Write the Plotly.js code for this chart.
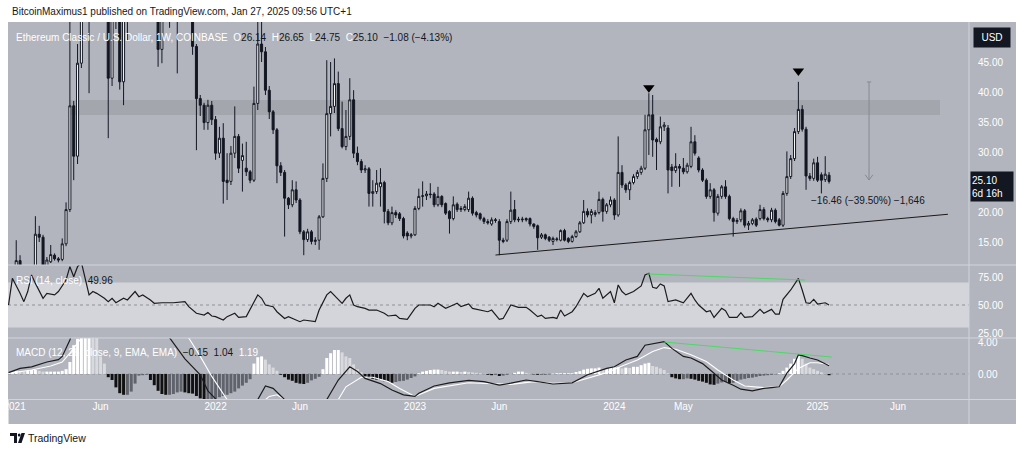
<!DOCTYPE html>
<html><head><meta charset="utf-8">
<script src="https://cdn.plot.ly/plotly-3.0.1.min.js"></script>
<style>html,body{margin:0;padding:0;background:#fff;}#chart{width:1024px;height:454px;}</style>
</head><body><div id="chart"></div>
<script>
// ---- weekly candles, first bar = week -2 (2020-12-21); week 0 = 2021-01-04 ----
const firstWeekNo = -2;
const openP = [
 5.5,5.7,9.5,11.9,10.5,9.8,10.3,10.5,16.3,15.8,
 10.9,11.7,12.8,12.2,12.1,14.7,20.4,37.7,29.3,44.8,
 75,80,60,68,62,56,54,42.3,53,55,
 41.7,55,58,62,70,64,66,70,57,55,
 47.1,55,58,56,54,55,57,55,54,47.6,
 38.9,37.8,34.9,37.8,35.4,29.8,32.3,25.3,25.1,29.8,
 32.6,28.6,27.3,26.7,25.3,38.1,48.0,46.7,40.3,36.7,
 33.7,27.7,26.6,22.3,21.2,23.7,22.0,16.7,15.4,16.7,
 15.1,15.3,19.2,25.6,36.4,37.6,41.4,33.9,30.9,32.6,
 38.7,29.8,28.4,27.0,27.2,23.1,23.4,24.2,24.9,20.1,
 18.2,19.9,19.7,18.9,16.5,16.0,16.2,20.6,22.6,22.7,
 23.0,23.0,21.2,22.6,21.4,20.1,18.9,21.3,20.4,20.4,
 20.4,22.3,19.9,19.7,18.9,18.4,18.0,18.7,18.4,15.3,
 15.3,18.4,20.4,18.8,18.7,18.9,18.9,18.0,17.7,15.8,
 16.2,15.8,15.1,15.4,15.3,16.9,15.6,15.1,15.9,16.7,
 18.2,20.1,19.5,19.6,19.9,22.1,20.1,21.2,22.0,19.5,
 26.6,24.5,23.7,24.9,25.9,26.6,27.3,33.7,36.2,32.1,
 31.7,34.2,34.0,27.5,26.9,27.6,27.3,26.7,27.6,31.7,
 29.0,27.0,25.3,22.6,23.7,19.8,22.6,24.2,22.6,18.9,
 18.4,18.7,20.2,17.8,18.1,18.8,18.9,20.4,18.9,18.7,
 20.3,18.7,17.8,23.1,25.9,28.9,33.4,37.1,33.8,26.0,
 25.6,28.2,26.2,25.4,26.14];
const highP = [
 6.0,10.0,15.3,12.8,11.0,10.9,11.0,19.3,17.7,16.2,
 12.5,14.5,13.1,12.5,15.6,21.6,55,38.5,48,176,
 110,95,75,78,66,62,56,56,57,56,
 60,62,66,75,72,72,80,75,62,56,
 60,62,62,58,58,60,62,56,56,48,
 39.5,38.2,38.7,38.5,36,34.2,34.8,29.8,31,37.6,
 33,31.4,31.7,27,40.9,52.5,55,47.5,41,37,
 34,28.3,27,22.5,25.3,25.1,22.3,17,17.2,17,
 15.8,19.5,28.1,45.3,45.0,45.6,43.4,38.4,37,42.3,
 40.3,30.9,28.8,27.8,27.5,25.3,27,27.3,25.2,20.5,
 20.9,20.3,20,19.2,16.8,16.5,21,23.9,25.1,23.5,
 24.8,23.3,24.2,22.8,21.6,20.3,22.6,21.6,21,21.3,
 23.4,22.6,20.2,19.9,19.2,18.8,19.1,19.0,18.8,15.7,
 18.8,23.4,22.0,19.2,19.2,19.1,19.1,18.1,17.9,16.5,
 16.4,16,15.9,15.8,17.1,17.2,15.8,16.2,17,18.5,
 22.0,20.6,20.5,20.3,23.4,22.4,21.5,22.6,22.3,32.6,
 27.8,24.8,25.2,26.3,27,27.7,36.2,39.8,39.5,32.4,
 35.9,35,34.5,28,29.8,28,29.0,28.2,34.2,32.8,
 29.3,27.3,25.6,24.8,24,23,24.5,25.3,22.9,19.2,
 19,20.6,20.5,18.5,19,19.1,21.2,20.8,19.2,20.7,
 20.6,19,23.5,30.1,29.5,34,41.7,37.8,34.2,26.5,
 28.9,29.2,26.6,29.3,26.65];
const lowP = [
 5.2,5.4,9.0,9.5,9.0,9.2,9.8,10.2,15.0,10.5,
 10.7,11.5,11.9,11.6,11.8,14.3,20.0,25.3,28,44,
 68,39.8,53,55,53,52.5,32.3,41,50.5,40.4,
 37.8,48.5,54,58,60,62,62,53,52,44.2,
 44.8,53,50.7,52,43.1,53,53,52,46.2,30.3,
 36,33.7,33.7,34.5,28.7,29,21.4,22,24.5,29,
 26.5,23.4,26,24.8,25,37,45,39.5,35.5,33,
 24.8,26,15.9,20.5,20.8,21.5,16.3,12.8,15,14.6,
 14.5,13.7,19,25,32.6,36.5,33.5,30.6,30.3,32,
 29,27.8,26.5,26.5,20.9,20.9,23,20.9,18.1,17.8,
 17.8,19,18.5,15.6,15.3,15.6,16,20.3,20.9,22,
 22.3,20.8,20.9,20.8,19.5,16.4,18.6,20,20,20.1,
 20,19.4,19.1,18.6,18,17.9,17.7,18.2,12.8,14.8,
 15,18,18.3,18.3,18.3,18.4,17.6,17.2,13.7,15.5,
 15.3,15,14.5,15.1,15.1,15.1,14.8,14.9,15.7,16.5,
 18,19.1,18.1,19.2,19.6,18.4,19.7,20.8,18.7,19.2,
 24,23.2,22,24.6,25.5,26.2,27,29.5,29.2,27.0,
 31.3,33.5,23.1,24.2,26.5,24.2,26.3,26.4,27.3,29.4,
 26.6,25,22.2,22.2,18.4,19.4,22.2,22.2,18.6,15.9,
 18,18.3,17.4,17.0,17.8,17.5,18.6,18.6,18.3,18.3,
 18.1,17.6,17.5,22.7,25.5,28.5,33,33.4,23.7,25.2,
 25.2,25,23.1,25,24.75];
const closeP = [
 5.7,9.5,11.9,10.5,9.8,10.3,10.5,16.3,15.8,10.9,
 12.0,12.9,12.2,12.0,14.7,20.4,37.7,29.3,44.8,75,
 80,60,68,62,56,54,42.3,53,55,41.7,
 55,58,62,70,64,66,70,57,55,47.1,
 55,58,56,54,55,57,55,54,47.6,38.9,
 37.8,34.9,37.8,35.4,29.8,32.3,25.1,24.9,29.8,32.6,
 27.3,29.4,26.7,25.3,38.1,48.0,46.7,40.3,36.7,33.7,
 27.7,26.6,22.3,21.2,23.7,22.0,16.7,15.4,16.7,15.1,
 15.3,19.2,25.6,36.4,37.6,41.4,33.9,30.9,32.6,38.7,
 29.8,28.4,27.0,27.2,23.1,23.4,24.8,24.9,20.1,18.2,
 19.9,19.5,18.9,16.0,16.0,16.2,20.6,22.6,22.7,23.0,
 22.9,21.2,22.6,21.2,19.8,18.9,21.2,20.4,20.6,20.9,
 22.3,19.8,19.5,18.9,18.4,18.2,18.7,18.6,15.3,15.1,
 18.4,20.3,18.7,18.7,18.8,18.7,18.0,17.6,15.7,16.2,
 15.6,15.3,15.6,15.5,16.9,15.3,15.1,15.9,16.7,18.2,
 20.1,19.5,20.1,19.9,22.1,20.1,21.2,22.0,19.5,26.6,
 24.5,23.7,24.9,25.9,26.6,27.3,33.7,36.2,32.0,31.7,
 34.2,34.5,27.0,26.9,27.6,27.3,26.7,27.8,31.7,29.8,
 27.0,25.3,22.6,23.7,19.9,22.6,24.2,22.6,18.9,18.4,
 18.6,20.2,17.8,18.1,18.7,17.8,20.4,18.9,18.7,20.3,
 18.4,17.8,23.1,25.9,28.9,33.4,37.1,33.8,26.0,25.6,
 28.2,25.3,25.3,26.3,25.10];
// MACD histogram, one bar per week (same weeks as candles)
const macdHist = [
 0.1,0.3,0.4,0.35,0.3,0.4,0.5,0.5,0.4,0.3,
 0.3,0.3,0.3,0.3,0.4,0.6,1.5,3.6,4.4,5.5,
 6,6,5.5,5,2.2,1.3,-0.4,-0.75,-1.67,-2.4,
 -2.6,-2.6,-2.2,-1.2,-0.2,-0.15,-0.1,-0.75,-1.4,-2.1,
 -2.5,-2.6,-2.6,-2.5,-2.3,-2.2,-2.3,-2.4,-2.45,-2.75,
 -3.05,-3.2,-3.2,-3.2,-3.1,-2.9,-2.75,-2.6,-2.4,-2.2,
 -1.8,-1.45,-1.1,-0.65,1.3,2.1,2.2,1.8,1.2,0.8,
 0.4,-0.1,-0.4,-0.7,-0.85,-1.1,-1.2,-1.25,-1.1,-0.8,
 -0.6,-0.35,0.6,2.0,2.6,3.0,3.0,2.7,2.2,2.0,
 1.2,0.6,0.2,-0.3,-0.5,-0.6,-0.7,-0.75,-0.9,-1.0,
 -1.1,-1.0,-0.9,-0.85,-0.7,-0.5,-0.3,0.1,0.3,0.4,
 0.5,0.55,0.55,0.5,0.4,0.3,0.3,0.3,0.25,0.3,
 0.25,0.2,0.15,0.1,0.05,-0.1,-0.15,-0.1,-0.25,-0.2,
 -0.1,0.0,0.15,0.3,0.3,0.15,0.05,-0.05,-0.1,-0.1,
 -0.1,-0.05,0.05,0.1,0.1,0.1,0.1,0.1,0.25,0.35,
 0.55,0.65,0.7,0.7,0.8,0.5,0.6,0.8,0.85,0.85,
 0.7,0.8,0.75,0.9,0.9,1.1,1.3,1.4,1.0,0.9,
 0.7,0.5,0.1,-0.4,-0.55,-0.65,-0.65,-0.55,-0.6,-0.7,
 -0.85,-0.95,-1.1,-1.3,-1.35,-1.2,-1.05,-1.0,-1.15,-1.1,
 -0.85,-0.7,-0.6,-0.5,-0.45,-0.35,-0.25,-0.2,-0.15,-0.1,
 -0.05,0.1,0.4,0.8,1.3,1.9,2.3,1.9,1.3,0.8,
 0.6,0.4,0.2,0.05,-0.15];
// RSI / MACD / signal lines: readings at given week numbers
const rsiWeek = [-2,-1,1,2,3,4,5,7,8,10,11,13,14,15,16,17,19,20,21,23,24,25,26,28,29,31,32,33,35,36,38,41,44,45,47,49,50,51,52,54,55,57,58,60,63,64,65,67,68,70,71,73,74,75,78,79,81,82,84,85,86,87,88,89,91,92,94,96,97,99,100,102,104,105,108,109,110,112,114,115,116,118,119,121,123,124,126,127,129,131,133,134,136,137,138,140,141,142,143,145,146,148,149,151,152,153,155,156,157,158,159,161,162,163,164,165,166,167,168,169,170,171,172,174,176,177,178,180,181,182,184,185,186,188,189,190,192,194,195,197,198,199,200,202,204,205,206,207,208,209,211,212];
const rsiValue = [50,73.8,60.4,53,62,76.8,69.3,56,60.4,59,62,72.3,84.2,75.3,84.2,88,59,62,60.4,56,53,56,52,56,54.5,62,57.4,59,54.5,51.5,52,52,53,48.5,42.6,41,43.2,40.2,39.6,36.6,39.6,42.6,39,39.6,59,56,50,48.5,44,38,39.6,36.6,35.1,36.6,35.1,45.5,59,62,54.5,51.5,56,59,50,48.5,47,45.5,45.5,42.6,40.2,41,38,37.2,47,50,50,48.5,51.5,47,50,51.5,48.5,51,47,45.5,44,45.5,37.2,38,50,47.9,47.9,45.5,39.6,41,38,38.9,38,45.5,40.2,44,48.5,60.4,57.4,60.4,64.9,56,62,52,67.9,62,59,62,64.9,67,76.8,78.3,65.8,64.9,68.8,67,53,53.9,54.5,52,60.4,54.5,50,44,44.9,38.9,47,44.9,38.9,38.9,43.2,38.9,39.6,46.1,42.6,46.1,41.9,41.9,55,63.4,73.8,63.4,52,51.5,55,50.9,52,49.96];
const macdWeek = [-2,1,4,8,11,12,14,15,18,22,26,30,34,37,39,40,44,48,50,52,54,57,60,63,65,67,69,70,72,75,78,81,84,87,89,91,95,98,101,104,105,109,113,118,122,126,129,133,136,140,145,149,154,156,159,162,164,167,169,171,174,176,179,182,184,187,189,192,195,197,199,201,203,204,205,207,209,212];
const macdValue = [0.17,0.7,0.9,1.5,1.8,2.2,4.25,6,11,12.5,11,9,8,6.5,5.2,4.5,1.9,-0.1,-2.1,-3.1,-4.2,-5,-4.6,-3.2,-1.5,-1.8,-2.8,-3.2,-4,-4.6,-4.4,-3.2,-0.75,0.9,0.3,-0.55,-1.2,-2,-2.6,-2.8,-2.4,-1.5,-1.1,-0.8,-0.95,-1.4,-1.15,-0.75,-0.95,-1.25,-1.1,-0.1,0.7,0.9,1.75,2.2,3.6,3.9,4.05,3.2,2.2,2.0,1.3,0.1,-0.75,-1.4,-1.9,-2.1,-1.8,-1.7,-1.6,0.1,1.3,2.4,2.3,2.0,1.75,1.04];
const signalWeek = [-2,4,9,12,14,17,20,25,30,35,40,43,45,48,51,55,58,62,66,68,70,73,77,81,84,86,90,93,97,100,104,106,109,118,123,129,135,140,145,149,154,158,162,166,169,172,176,180,183,187,190,195,199,201,204,207,209,212];
const signalValue = [0.08,0.5,1.0,1.5,2.6,4.5,8,10.5,10.5,9,7,5.3,4.5,2.2,-0.3,-3.2,-4.2,-4.4,-2.8,-2.6,-3.2,-4,-4.2,-4,-3.2,-1.6,-0.4,-0.4,-0.95,-1.8,-2.8,-2.4,-1.8,-1.1,-1.2,-1.3,-0.95,-1.17,-1.1,-0.55,0.17,1.0,1.75,2.8,3.3,3.1,2.4,1.55,0.5,-0.75,-1.5,-1.7,-1.6,-0.75,0.7,1.4,1.4,1.19];
// x tick labels
const tickWeeks = ['2021-01-01','2021-06-07','2022-01-03','2022-06-06','2023-01-02','2023-06-05','2024-01-01','2024-05-06','2025-01-06','2025-06-02'];
const tickTexts = ['2021','Jun','2022','Jun','2023','Jun','2024','May','2025','Jun'];
const priceTicks = [15,20,30,35,40,45];
const rsiTicks = [25,50,75];
const macdTicks = [0,4];
// drawings (TradingView objects)
const peakWeeks = [165,204];
const peakMarkPrice = [40.7,43.5];

// ---------- helpers ----------
const DAY = 86400000;
const base = Date.UTC(2021,0,4);
function weekDate(n){ return new Date(base + n*7*DAY).toISOString().slice(0,10); }
const dates = openP.map((_,k)=>weekDate(k+firstWeekNo));
const L=8, R=969, T=22, B=399;
const px = v => (v-L)/(R-L);
const py = v => (B-v)/(B-T);
const FONT = 'Liberation Sans, Arial, sans-serif';
const DARK = '#131722';

const histColors = macdHist.map((v,k)=>{
  const prev = k>0 ? macdHist[k-1] : 0;
  if (v >= 0) return v >= prev ? '#ffffff' : '#d9dade';
  return v < prev ? '#111111' : '#60636b';
});

const traces = [
 {type:'candlestick', x:dates, open:openP, high:highP, low:lowP, close:closeP,
  xaxis:'x', yaxis:'y', whiskerwidth:0, hoverinfo:'skip',
  increasing:{line:{color:DARK,width:1}, fillcolor:'#ffffff'},
  decreasing:{line:{color:DARK,width:1}, fillcolor:DARK}},
 {type:'scatter', mode:'markers', x:peakWeeks.map(weekDate), y:peakMarkPrice, xaxis:'x', yaxis:'y',
  marker:{symbol:'triangle-down', size:10, color:'#000000'}, hoverinfo:'skip'},
 {type:'scatter', mode:'lines', x:rsiWeek.map(weekDate), y:rsiValue, xaxis:'x', yaxis:'y2',
  line:{color:'#1c1c1c', width:1.2}, hoverinfo:'skip'},
 {type:'bar', x:dates, y:macdHist, xaxis:'x', yaxis:'y3', marker:{color:histColors, line:{width:0}}, hoverinfo:'skip'},
 {type:'scatter', mode:'lines', x:signalWeek.map(weekDate), y:signalValue, xaxis:'x', yaxis:'y3',
  line:{color:'#ffffff', width:1.1}, hoverinfo:'skip'},
 {type:'scatter', mode:'lines', x:macdWeek.map(weekDate), y:macdValue, xaxis:'x', yaxis:'y3',
  line:{color:'#1c1c1c', width:1.2}, hoverinfo:'skip'}
];

const sepColor = '#d1d4dc';
const shapes = [
 {type:'rect', xref:'paper', yref:'paper', x0:px(8), x1:px(1016), y0:py(424), y1:py(22), fillcolor:'#b2b5be', line:{width:0}, layer:'below'},
 {type:'rect', xref:'paper', yref:'y2', x0:0, x1:1, y0:30, y1:70, fillcolor:'#d4d5da', line:{width:0}, layer:'below'},
 {type:'rect', xref:'paper', yref:'y', x0:px(70), x1:px(940), y0:36.17, y1:38.67, fillcolor:'#a4a6ae', line:{width:0}, layer:'below'},
 {type:'line', xref:'paper', yref:'y2', x0:0, x1:1, y0:50, y1:50, line:{color:'#8e9199', width:1, dash:'3px,3px'}, layer:'below'},
 {type:'line', xref:'paper', yref:'y3', x0:0, x1:1, y0:0, y1:0, line:{color:'#8e9199', width:1, dash:'3px,3px'}, layer:'below'},
 {type:'line', xref:'paper', yref:'paper', x0:px(8), x1:px(1016), y0:py(265), y1:py(265), line:{color:sepColor, width:1}},
 {type:'line', xref:'paper', yref:'paper', x0:px(8), x1:px(1016), y0:py(338), y1:py(338), line:{color:sepColor, width:1}},
 {type:'line', xref:'paper', yref:'paper', x0:px(8), x1:px(1016), y0:py(399.5), y1:py(399.5), line:{color:sepColor, width:1}},
 {type:'line', xref:'paper', yref:'paper', x0:px(969), x1:px(969), y0:py(424), y1:py(22), line:{color:sepColor, width:1}},
 // support trend line
 {type:'line', xref:'x', yref:'y', x0:'2023-05-29', y0:12.83, x1:'2025-09-01', y1:19.62, line:{color:'#1a1a1a', width:1}},
 // measure arrow
 {type:'line', xref:'x', yref:'y', x0:'2025-04-10', y0:41.67, x1:'2025-04-10', y1:25.33, line:{color:'#878a92', width:1}},
 {type:'line', xref:'x', yref:'y', x0:'2025-04-06', y0:41.67, x1:'2025-04-14', y1:41.67, line:{color:'#878a92', width:1}},
 {type:'path', xref:'x', yref:'y', path:'M2025-04-03,26.2 L2025-04-10,25.33 L2025-04-17,26.2', line:{color:'#878a92', width:1}},
 // divergence lines
 {type:'line', xref:'x', yref:'y2', x0:'2024-03-01', y0:77.7, x1:'2024-12-14', y1:72.3, line:{color:'#4cd964', width:1}},
 {type:'line', xref:'x', yref:'y3', x0:'2024-04-01', y0:4.0, x1:'2025-02-01', y1:2.12, line:{color:'#4cd964', width:1}},
 // clip of first x label at chart border
 {type:'rect', xref:'paper', yref:'paper', x0:px(0), x1:px(8.5), y0:py(424), y1:py(400), fillcolor:'#ffffff', line:{width:0}, layer:'above'},
 // TradingView logo
 {type:'path', xref:'paper', yref:'paper', path:`M${px(10)},${py(433)} L${px(17)},${py(433)} L${px(17)},${py(443)} L${px(14)},${py(443)} L${px(14)},${py(436)} L${px(10)},${py(436)} Z`, fillcolor:DARK, line:{width:0}},
 {type:'circle', xref:'paper', yref:'paper', x0:px(17.8), x1:px(20.6), y0:py(436.6), y1:py(433.6), fillcolor:DARK, line:{width:0}},
 {type:'path', xref:'paper', yref:'paper', path:`M${px(21.5)},${py(433)} L${px(25)},${py(433)} L${px(21.5)},${py(443)} L${px(18)},${py(443)} Z`, fillcolor:DARK, line:{width:0}}
];

const W = 'color:#ffffff', D = 'color:'+DARK;
const annotations = [
 {xref:'paper', yref:'paper', x:px(10), y:py(12), xanchor:'left', yanchor:'middle', showarrow:false,
  text:'BitcoinMaximus1 published on TradingView.com, Jan 27, 2025 09:56 UTC+1', font:{family:FONT, size:10, color:DARK}},
 {xref:'paper', yref:'paper', x:px(14), y:py(37), xanchor:'left', yanchor:'middle', showarrow:false,
  text:`<span style="${W}">Ethereum Classic / U.S. Dollar, 1W, COINBASE&nbsp;&nbsp;O</span><span style="${D}">26.14</span><span style="${W}">&nbsp;&nbsp;H</span><span style="${D}">26.65</span><span style="${W}">&nbsp;&nbsp;L</span><span style="${D}">24.75</span><span style="${W}">&nbsp;&nbsp;C</span><span style="${D}">25.10&nbsp;&nbsp;−1.08 (−4.13%)</span>`,
  font:{family:FONT, size:10, color:'#ffffff'}},
 {xref:'paper', yref:'paper', x:px(14), y:py(280), xanchor:'left', yanchor:'middle', showarrow:false,
  text:`<span style="${W}">RSI (14, close)</span>&nbsp;&nbsp;<span style="${D}">49.96</span>`, font:{family:FONT, size:10, color:'#ffffff'}},
 {xref:'paper', yref:'paper', x:px(14), y:py(352), xanchor:'left', yanchor:'middle', showarrow:false,
  text:`<span style="${W}">MACD (12, 26, close, 9, EMA, EMA)</span>&nbsp;&nbsp;<span style="${D}">−0.15&nbsp;&nbsp;1.04</span>&nbsp;&nbsp;<span style="${W}">1.19</span>`, font:{family:FONT, size:10, color:'#ffffff'}},
 {xref:'paper', yref:'paper', x:px(991.5), y:py(37.5), xanchor:'center', yanchor:'middle', showarrow:false,
  text:'USD', width:34, height:17, bgcolor:DARK, font:{family:FONT, size:10, color:'#ffffff'}},
 {xref:'paper', yref:'paper', x:px(969.5), y:py(186.5), xanchor:'left', yanchor:'middle', showarrow:false, align:'left',
  text:'25.10<br>6d 16h', width:40, height:27, bgcolor:DARK, font:{family:FONT, size:10, color:'#ffffff'}},
 {xref:'x', yref:'y', x:'2025-04-08', y:22.0, xanchor:'center', yanchor:'middle', showarrow:false,
  text:'−16.46 (−39.50%) −1,646', font:{family:FONT, size:10, color:DARK}},
 {xref:'paper', yref:'paper', x:px(26), y:py(438), xanchor:'left', yanchor:'middle', showarrow:false,
  text:'TradingView', font:{family:FONT, size:10.5, color:DARK}}
];

const axisFont = {family:FONT, size:10, color:'#ffffff'};
const yCommon = {side:'right', anchor:'x', showgrid:false, zeroline:false, showline:false, ticks:'',
  tickformat:'.2f', tickfont:axisFont, ticklabelstandoff:8, fixedrange:true};
const layout = {
 width:1024, height:454, margin:{l:L, r:1024-R, t:T, b:454-B},
 paper_bgcolor:'#ffffff', plot_bgcolor:'rgba(0,0,0,0)',
 showlegend:false, hovermode:false, dragmode:false, bargap:0.22, boxgap:0.25,
 xaxis:{type:'date', range:['2020-12-20','2025-10-09 12:00'], domain:[0,1], anchor:'y3',
   showgrid:false, zeroline:false, showline:false, ticks:'', tickvals:tickWeeks, ticktext:tickTexts,
   tickfont:{family:FONT, size:10, color:'#ffffff'}, rangeslider:{visible:false}, fixedrange:true},
 yaxis:Object.assign({}, yCommon, {domain:[py(265),1], range:[11.1667,51.6667], tickvals:priceTicks}),
 yaxis2:Object.assign({}, yCommon, {domain:[py(338),py(265)], range:[20.54,85.71], tickvals:rsiTicks}),
 yaxis3:Object.assign({}, yCommon, {domain:[0,py(338)], range:[-3.125,4.5], tickvals:macdTicks}),
 shapes:shapes, annotations:annotations
};
Plotly.newPlot('chart', traces, layout, {staticPlot:true, displayModeBar:false});
</script>
</body></html>
